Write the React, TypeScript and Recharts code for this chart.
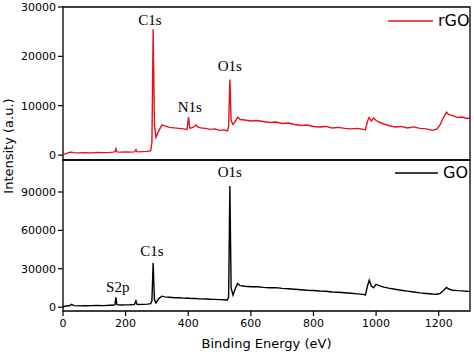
import React from 'react';
import { LineChart, Line, XAxis, YAxis, ReferenceDot, ReferenceArea } from 'recharts';

// binding energy (eV) sampled along the survey scan
const energy = [
  0, 10, 20, 27, 35, 50, 70, 90, 110, 130, 150, 160, 166, 169, 172, 185, 200, 215, 228, 233,
  236, 240, 255, 270, 280, 284, 288, 292, 297, 305, 316, 325, 340, 355, 370, 385, 396, 401, 405, 415,
  425, 430, 440, 455, 470, 485, 500, 515, 525, 529, 533, 537, 543, 551, 558, 566, 580, 600, 620, 640,
  660, 680, 700, 720, 740, 760, 780, 800, 820, 840, 860, 880, 900, 920, 940, 960, 966, 972, 978, 985,
  992, 1000, 1012, 1025, 1040, 1060, 1080, 1100, 1120, 1140, 1160, 1180, 1195, 1205, 1215, 1225, 1232, 1245, 1260, 1275,
  1290, 1300,
];

const rgoCounts = [
  100, 300, 550, 600, 500, 450, 500, 450, 550, 500, 550, 600, 700, 1300, 650, 600, 650, 600, 650, 1100,
  700, 650, 700, 750, 900, 2500, 25500, 6000, 3600, 4800, 6100, 5900, 5600, 5500, 5400, 5300, 5200, 7700, 5400, 5600,
  6100, 5700, 5500, 5400, 5200, 5300, 5000, 5100, 4900, 5800, 15300, 7000, 6200, 6900, 7700, 7200, 7100, 6900, 7000, 6800,
  6600, 6700, 6400, 6500, 6200, 6000, 6100, 5800, 5700, 5800, 5500, 5600, 5400, 5300, 5400, 5200, 5100, 6800, 7600, 6900,
  7500, 7000, 6600, 6300, 6000, 5700, 5800, 5500, 5700, 5400, 5300, 5000, 5300, 6200, 7600, 8700, 8200, 8000, 7600, 7700,
  7400, 7500,
];

const goCounts = [
  300, 900, 1100, 2200, 1200, 1000, 1100, 1200, 1300, 1200, 1500, 1500, 2000, 7600, 2000, 1700, 1800, 1900, 2200, 5000,
  2400, 2100, 2200, 2400, 2700, 5000, 34400, 6000, 3200, 6500, 8600, 8000, 7800, 7400, 7300, 7100, 7000, 7100, 6900, 6800,
  6900, 6600, 6500, 6400, 6200, 6100, 5900, 5800, 5600, 8000, 94700, 15000, 9400, 15000, 18500, 16800, 16300, 15900, 16000, 15500,
  15200, 15300, 14700, 14400, 14000, 13600, 13200, 13000, 12600, 12400, 11900, 11600, 11300, 10900, 10400, 10000, 9500, 16000, 21100, 16500,
  15200, 17800, 16600, 15700, 14900, 14000, 13200, 12500, 11900, 11200, 10700, 10300, 10100, 10800, 13000, 15400, 14200, 13200, 12900, 12700,
  12400, 12300,
];

const energyTicks = [0, 200, 400, 600, 800, 1000, 1200];
const rgoTicks = [0, 10000, 20000, 30000];
const goTicks = [0, 30000, 60000, 90000];
const energyRange = [0, 1300];
const rgoRange = [-1000, 30000];
const goRange = [-3000, 115000];

// peak annotations: label centre (eV) and baseline height (counts)
const rgoPeaks = [
  { name: 'C1s', energy: 278, counts: 26300 },
  { name: 'N1s', energy: 405, counts: 8700 },
  { name: 'O1s', energy: 533, counts: 17000 },
];
const goPeaks = [
  { name: 'S2p', energy: 175, counts: 12000 },
  { name: 'C1s', energy: 284, counts: 39900 },
  { name: 'O1s', energy: 533, counts: 101700 },
];

const rows = energy.map((e, i) => ({ energy: e, rgo: rgoCounts[i], go: goCounts[i] }));

const tickFont = { fontFamily: 'DejaVu Sans', fontSize: 11, fill: '#000' };

// tick mark + label drawn together (tickSize 5, tickMargin 2)
function LeftTick(props: any) {
  const { x, y, payload } = props;
  return (
    <g>
      <line x1={x + 2} x2={x + 7} y1={y} y2={y} stroke="#000" strokeWidth={1.2} />
      <text x={x} y={y} dy="0.36em" textAnchor="end" {...tickFont}>{payload.value}</text>
    </g>
  );
}

// tickSize 5, tickMargin 3
function BottomTick(props: any) {
  const { x, y, payload } = props;
  return (
    <g>
      <line x1={x} x2={x} y1={y - 8} y2={y - 3} stroke="#000" strokeWidth={1.2} />
      <text x={x} y={y} dy="0.71em" textAnchor="middle" {...tickFont}>{payload.value}</text>
    </g>
  );
}

function LegendKey({ color, name, lineWidth, top, left }: { color: string; name: string; lineWidth: number; top: number; left: number }) {
  return (
    <div style={{ position: 'absolute', top, left, display: 'flex', alignItems: 'center', fontFamily: 'DejaVu Sans', fontSize: 16, color: '#000', lineHeight: '18px' }}>
      <svg width={lineWidth} height={4} style={{ marginRight: 5 }}>
        <line x1={0} y1={2} x2={lineWidth} y2={2} stroke={color} strokeWidth={1.5} />
      </svg>
      <span>{name}</span>
    </div>
  );
}

function peakDots(peaks: { name: string; energy: number; counts: number }[]) {
  return peaks.map((p) => (
    <ReferenceDot
      key={p.name}
      x={p.energy}
      y={p.counts}
      r={0}
      fill="none"
      stroke="none"
      label={{ value: p.name, position: 'top', offset: 0, fontFamily: 'Liberation Serif', fontSize: 15, fill: '#000' }}
    />
  ));
}

function Frame({ yRange }: { yRange: number[] }) {
  return (
    <ReferenceArea
      x1={energyRange[0]}
      x2={energyRange[1]}
      y1={yRange[0]}
      y2={yRange[1]}
      fill="none"
      fillOpacity={0}
      stroke="#000"
      strokeWidth={1.3}
      ifOverflow="visible"
    />
  );
}

export default function App() {
  return (
    <div style={{ position: 'absolute', left: 0, top: 0, width: 474, height: 354, background: '#fff' }}>
      <div style={{ position: 'absolute', left: 0, top: 0 }}>
        <LineChart width={474} height={161} data={rows} margin={{ top: 7, right: 4, bottom: 1, left: 3 }}>
          <XAxis dataKey="energy" type="number" domain={energyRange} tick={false} tickLine={false} axisLine={false} height={0} />
          <YAxis domain={rgoRange} ticks={rgoTicks} interval={0} width={60} tick={<LeftTick />} tickSize={5} tickMargin={2} tickLine={false} axisLine={false} />
          {Frame({ yRange: rgoRange })}
          <Line type="linear" dataKey="rgo" stroke="#e3121b" strokeWidth={1.4} dot={false} isAnimationActive={false} />
          {peakDots(rgoPeaks)}
        </LineChart>
      </div>
      <div style={{ position: 'absolute', left: 0, top: 159 }}>
        <LineChart width={474} height={195} data={rows} margin={{ top: 1, right: 4, bottom: 0, left: 3 }}>
          <XAxis dataKey="energy" type="number" domain={energyRange} ticks={energyTicks} interval={0} height={43} tick={<BottomTick />} tickSize={5} tickMargin={3} tickLine={false} axisLine={false}
            label={{ value: 'Binding Energy (eV)', position: 'insideBottom', offset: 6, fontFamily: 'DejaVu Sans', fontSize: 13, fill: '#000' }} />
          <YAxis domain={goRange} ticks={goTicks} interval={0} width={60} tick={<LeftTick />} tickSize={5} tickMargin={2} tickLine={false} axisLine={false} />
          {Frame({ yRange: goRange })}
          <Line type="linear" dataKey="go" stroke="#000" strokeWidth={1.4} dot={false} isAnimationActive={false} />
          {peakDots(goPeaks)}
        </LineChart>
      </div>
      <LegendKey color="#e3121b" name="rGO" lineWidth={45} top={12} left={388} />
      <LegendKey color="#000" name="GO" lineWidth={43} top={164} left={395} />
      <svg width={30} height={354} style={{ position: 'absolute', left: 0, top: 0 }}>
        <text x={13} y={146} transform="rotate(-90 13 146)" textAnchor="middle" fontFamily="DejaVu Sans" fontSize={13} fill="#000">
          Intensity (a.u.)
        </text>
      </svg>
    </div>
  );
}
